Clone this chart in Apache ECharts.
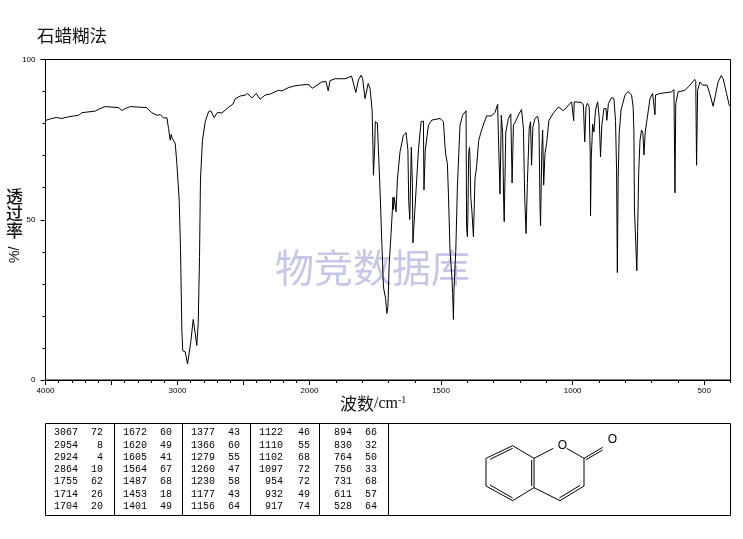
<!DOCTYPE html>
<html><head><meta charset="utf-8">
<style>html,body{margin:0;padding:0;background:#fff}#c{width:743px;height:539px}</style>
<script src="https://cdn.jsdelivr.net/npm/echarts@6/dist/echarts.min.js"></script>
</head><body><div id="c"></div>
<script>
const titleText = '石蜡糊法';
const watermark = '物竞数据库';
const wavenumbers = [4000,3951,3919,3876,3826,3750,3724,3623,3586,3548,3447,3421,3396,3358,3237,3194,3156,3131,3106,3080,3068,3055,3048,3040,3030,3017,3005,2987,2977,2967,2960,2942,2924,2914,2899,2881,2866,2854,2843,2833,2826,2811,2790,2765,2748,2722,2697,2664,2616,2580,2562,2525,2487,2470,2437,2404,2374,2336,2298,2235,2210,2160,2122,2070,2020,2000,
1990,1953,1937,1929,1922,1903,1865,1840,1833,1824,1814,1804,1798,1789,1785,1777,1770,1762,1759,1757,1755,1752,1750,1742,1738,1732,1725,1719,1711,1706,1702,1697,1690,1685,1683,1681,1678,1671,1666,1656,1643,1633,1626,1623,1619,1613,1609,1607,1602,1595,1586,1576,1567,1565,1560,1548,1535,1504,1491,1485,1482,1476,1472,1466,1459,1456,1453,1451,1444,1438,1428,1418,1405,1403,1400,1398,1395,1392,1390,1387,1383,1377,1371,1365,1357,1346,1327,1308,1295,1285,1281,1276,1271,1266,1262,1260,1254,1244,1235,1230,1225,1219,1215,1209,1204,1194,1187,1182,1177,1172,1165,1160,1156,1151,1143,1133,1128,1124,1122,1117,1114,1110,1105,1099,1090,1074,1054,1035,1004,998,996,994,966,959,954,949,944,937,933,932,929,926,924,919,913,905,899,894,889,881,873,870,864,852,843,837,833,830,827,823,816,801,789,776,770,767,765,756,753,749,744,738,733,729,724,716,706,696,689,687,685,668,624,615,611,608,599,573,554,536,532,529,525,516,506,489,479,466,460,447,435,428,415,405,401];
const transmittance = [81,81.6,81.9,81.6,82.1,82.6,83.4,83.9,84.7,85.3,85,84.1,84.7,85.3,85,83.4,82.6,82.8,81.8,81.8,78.5,74.8,76.6,75.4,75.9,73.8,67.6,56,40.5,15.6,9.1,8.8,5,5.2,12,18.9,14.6,10.8,17.7,38.5,62.4,74.8,80.6,83.7,84,81.9,83.5,83.3,85,86.1,87.8,88.6,88.9,89.4,88,89.4,87.6,88.9,89.2,90.4,90.2,91.2,91.7,92,92.2,92,
91,93,93.1,90.2,93.4,94,94,94.8,94.8,89.7,93.6,95.1,94,87.8,87.8,92.5,91,84.2,73.3,63.9,63.9,73.3,80.6,80.2,71.7,59.3,42.6,29,25.5,20.8,22.9,36.4,45.7,53,57,53.2,57,52.5,62.4,71.2,76.4,77.2,71.7,56,50.1,72.6,61.3,42.8,43.1,59.3,71.7,80.6,80.8,59.3,71.7,79.5,81.1,81.6,80.6,72.8,70.2,67.6,58,40.5,32.2,27,18.9,28,40.5,60.3,79.5,82.6,84,47.8,44.7,51.5,70.7,72.6,69.6,57,52.9,44.7,62.9,66.5,74.8,78,82.4,82.4,83.5,86,72.8,58,82.6,77,55.1,49.4,77.4,81.6,83,61.5,79.5,79.8,81,80.8,83,84.4,78.5,56.7,45.7,61.3,78.5,80.6,67,79,81.6,82.3,80,55,48.1,71.7,78,60.8,70.7,73.8,81,83.2,85.2,84,86.8,86.8,80.9,86.8,86.6,85.8,74.3,85.2,86.3,85.2,69.6,51.2,69.6,75.4,79.8,77.4,84.2,86.8,82,69.6,79.5,84.7,84.7,81,86.3,88.1,87.8,81,65.5,33.5,62.4,76.9,84.2,88.9,90,88.9,85.2,77,53,34.1,46.3,64.4,74.8,78,77,70.2,77.4,82,87.8,89.4,88.9,82.8,88.9,89.4,89.9,90.6,58.4,86.3,89.9,90.4,92,93.8,93.1,67,90.4,93,92,92,89.4,85.4,85.7,93,95,94,89.4,85.8,85.4];
const leftMajorTicks = [2000,2500,3000,3500,4000];
const leftLabels = [2000,3000,4000];
const rightMajorTicks = [500,1000,1500,2000];
const rightLabels = [500,1000,1500];
const peakColumns = [
 [['3067',72],['2954',8],['2924',4],['2864',10],['1755',62],['1714',26],['1704',20]],
 [['1672',60],['1620',49],['1605',41],['1564',67],['1487',68],['1453',18],['1401',49]],
 [['1377',43],['1366',60],['1279',55],['1260',47],['1230',58],['1177',43],['1156',64]],
 [['1122',46],['1110',55],['1102',68],['1097',72],['954',72],['932',49],['917',74]],
 [['894',66],['830',32],['764',50],['756',33],['731',68],['611',57],['528',64]]
];

const ink = '#000';
const pairs = wavenumbers.map((w,i)=>[w,transmittance[i]]);
const plain = v => String(v);
const labelFont = {color:ink,fontSize:8,fontFamily:'Liberation Sans',margin:7,formatter:plain};
function shortAxis(gi,min,max){return {gridIndex:gi,type:'value',inverse:true,min,max,interval:100,position:'bottom',
  axisLine:{show:true,onZero:false,lineStyle:{color:ink,width:1}},axisTick:{show:true,length:3,lineStyle:{color:ink}},
  axisLabel:{show:false},splitLine:{show:false}};}
function longAxis(gi,min,max,ticks,labels){return {gridIndex:gi,type:'value',inverse:true,min,max,position:'bottom',
  axisLine:{show:false,onZero:false},axisTick:{show:true,length:5,customValues:ticks,lineStyle:{color:ink}},
  axisLabel:Object.assign({show:true,customValues:labels,hideOverlap:false,showMinLabel:true,showMaxLabel:true},labelFont),splitLine:{show:false}};}
const graphic = [];
graphic.push({type:'text',z:0,left:275,top:248,style:{text:watermark,fill:'#c6c6e7',font:'39px "Noto Sans CJK SC"'}});
graphic.push({type:'text',left:6,top:188,style:{text:'透\n过\n率',fill:'#111',font:'500 17px "Noto Sans CJK SC"',lineHeight:17}});
graphic.push({type:'text',x:15,y:263,rotation:Math.PI/2,style:{text:'%/',fill:'#111',font:'14px "Liberation Sans"',align:'left',verticalAlign:'middle'}});
graphic.push({type:'text',left:340,top:395,style:{rich:{a:{font:'17px "Noto Sans CJK SC"',fill:'#111'},b:{font:'16px "Liberation Serif"',fill:'#111'},s:{font:'10px "Liberation Serif"',fill:'#111',verticalAlign:'top',padding:[0,0,6,0]}},text:'{a|波数}{b|/cm}{s|-1}'}});
// table frame
const tblL=45.5,tblR=730.5,tblT=423.5,tblB=515.5;
graphic.push({type:'rect',shape:{x:tblL,y:tblT,width:tblR-tblL,height:tblB-tblT},style:{fill:'none',stroke:ink,lineWidth:1}});
[114.5,182.5,250.5,319.5,388.5].forEach(x=>graphic.push({type:'line',shape:{x1:x,y1:tblT,x2:x,y2:tblB},style:{stroke:ink,lineWidth:1}}));
const colNum=[78,147,215,283,352], colVal=[103,172,240,310,377], rowY=[432.7,445,457.3,469.5,481.8,494.2,506.8];
peakColumns.forEach((col,c)=>col.forEach((p,r)=>{
  graphic.push({type:'text',x:colNum[c],y:rowY[r],style:{text:p[0],fill:ink,font:'10px "Liberation Mono"',align:'right',verticalAlign:'middle'}});
  graphic.push({type:'text',x:colVal[c],y:rowY[r],style:{text:String(p[1]),fill:ink,font:'10px "Liberation Mono"',align:'right',verticalAlign:'middle'}});
}));
// coumarin structure
const bonds=[[318,130,398,92],[330,133,398,100],[398,92,462,130],[462,130,462,218],[455,135,455,213],[462,218,398,257],[318,213,398,257],[330,210,398,249],[318,130,318,213],
 [462,130,520,100],[560,100,612,130],[612,130,612,213],[612,213,540,257],[600,211,538,249],[540,257,462,218],[612,130,668,97],[618,134,668,105]];
bonds.forEach(b=>graphic.push({type:'line',shape:{x1:380+b[0]/3,y1:415+b[1]/3,x2:380+b[2]/3,y2:415+b[3]/3},style:{stroke:ink,lineWidth:1}}));
graphic.push({type:'text',x:380+547/3,y:415+92/3,style:{text:'O',fill:ink,font:'12px "Liberation Sans"',align:'center',verticalAlign:'middle'}});
graphic.push({type:'text',x:380+697/3,y:415+75/3,style:{text:'O',fill:ink,font:'12px "Liberation Sans"',align:'center',verticalAlign:'middle'}});

const chart = echarts.init(document.getElementById('c'),null,{renderer:'canvas'});
chart.setOption({
  animation:false,backgroundColor:'#fff',
  title:{text:titleText,left:32,top:22,textStyle:{color:'#111',fontWeight:'normal',fontSize:17.5,fontFamily:'Noto Sans CJK SC'}},
  grid:[
    {left:45.5,top:59.5,width:264,height:320.5},
    {left:309.5,top:59.5,width:421,height:320.5},
    {left:45.5,top:59.5,width:685,height:320.5,show:true,borderColor:ink,borderWidth:1,backgroundColor:'transparent'}
  ],
  xAxis:[shortAxis(0,2000,4000),longAxis(0,2000,4000,leftMajorTicks,leftLabels),shortAxis(1,400,2000),longAxis(1,400,2000,rightMajorTicks,rightLabels),
    {gridIndex:2,type:'value',show:false,min:0,max:1}],
  yAxis:[
    {gridIndex:0,type:'value',min:0,max:100,interval:50,
     axisLine:{show:true,lineStyle:{color:ink}},axisTick:{show:true,length:5,lineStyle:{color:ink}},
     minorTick:{show:true,splitNumber:5,length:3,lineStyle:{color:ink}},
     axisLabel:{color:ink,fontSize:8,fontFamily:'Liberation Sans',margin:10},splitLine:{show:false},minorSplitLine:{show:false}},
    {gridIndex:1,type:'value',min:0,max:100,show:false},
    {gridIndex:2,type:'value',min:0,max:1,show:false}
  ],
  series:[
    {type:'line',xAxisIndex:0,yAxisIndex:0,data:pairs.filter(p=>p[0]>=2000),showSymbol:false,lineStyle:{color:ink,width:1},z:5},
    {type:'line',xAxisIndex:2,yAxisIndex:1,data:pairs.filter(p=>p[0]<=2000),showSymbol:false,lineStyle:{color:ink,width:1},z:5}
  ],
  graphic:graphic
});
</script></body></html>
